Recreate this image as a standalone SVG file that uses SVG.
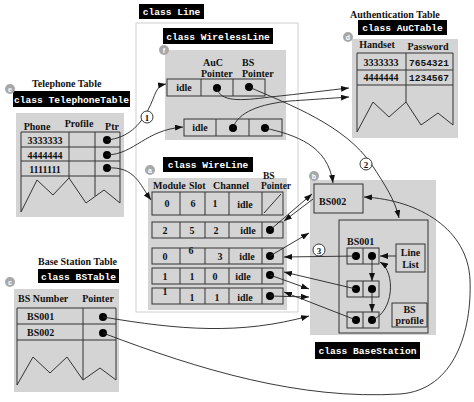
<svg xmlns="http://www.w3.org/2000/svg" width="474" height="402" viewBox="0 0 474 402">
<style>
.bg{fill:#fff}
.gray{fill:#d4d4d4;stroke:none}
.outer{fill:#fff;stroke:#d0d0d0;stroke-width:1}
.cell{fill:none;stroke:#333;stroke-width:1}
.tl{fill:none;stroke:#333;stroke-width:1}
.lbl{fill:#000}
.lt{font-family:"Liberation Mono",monospace;font-weight:bold;font-size:9.6px;fill:#fff}
.t{font-family:"Liberation Serif",serif;font-weight:bold;font-size:10px;fill:#111}
.h{font-family:"Liberation Serif",serif;font-weight:bold;font-size:9.5px;fill:#111}
.m{font-family:"Liberation Mono",monospace;font-weight:bold;font-size:9.5px;fill:#111}
.dot{fill:#000}
.tag{fill:#a8a8a8}
.tagt{font-family:"Liberation Sans",sans-serif;font-weight:bold;font-size:7px;fill:#fff}
.num{fill:#fff;stroke:#222;stroke-width:0.9}
.numt{font-family:"Liberation Serif",serif;font-weight:bold;font-size:9px;fill:#111}
</style>
<defs>
<marker id="ah" markerUnits="userSpaceOnUse" markerWidth="8" markerHeight="6" refX="8" refY="3" orient="auto">
<path d="M0,0 L8,3 L0,6 z" fill="#111" stroke="none"/>
</marker>
</defs>
<rect class="bg" x="0" y="0" width="474" height="402"/>

<g id="line">
<rect class="lbl" x="139" y="4" width="65" height="15"/>
<text class="lt" x="171.5" y="15" text-anchor="middle">class Line</text>
<rect class="outer" x="136" y="23" width="162" height="289"/>
</g>

<g id="wirelessline">
<rect class="lbl" x="163" y="28" width="110" height="16"/>
<text class="lt" x="218" y="39.5" text-anchor="middle">class WirelessLine</text>
<rect class="gray" x="165" y="50" width="121" height="90"/>
<circle class="tag" cx="164" cy="50" r="5"/><text class="tagt" x="164" y="52.5" text-anchor="middle">f</text>
<text class="t" x="203" y="66">AuC</text>
<text class="t" x="201" y="77">Pointer</text>
<text class="t" x="242" y="66">BS</text>
<text class="t" x="242" y="77">Pointer</text>
<rect class="cell" x="167" y="79" width="98" height="17"/>
<line class="cell" x1="201" y1="79" x2="201" y2="96"/>
<line class="cell" x1="233" y1="79" x2="233" y2="96"/>
<text class="t" x="184" y="91" text-anchor="middle">idle</text>
<circle class="dot" cx="217" cy="88" r="4"/>
<circle class="dot" cx="249" cy="87" r="4"/>
<rect class="cell" x="184" y="119" width="98" height="17"/>
<line class="cell" x1="216" y1="119" x2="216" y2="136"/>
<line class="cell" x1="249" y1="119" x2="249" y2="136"/>
<text class="t" x="200" y="131" text-anchor="middle">idle</text>
<circle class="dot" cx="233" cy="128" r="4"/>
<circle class="dot" cx="265" cy="128" r="4"/>
</g>

<g id="telephonetable">
<text class="t" x="32" y="87">Telephone Table</text>
<rect class="lbl" x="13" y="91" width="117" height="16"/>
<text class="lt" x="71.5" y="102.5" text-anchor="middle">class TelephoneTable</text>
<circle class="tag" cx="10" cy="89" r="5"/><text class="tagt" x="10" y="91.5" text-anchor="middle">e</text>
<rect class="gray" x="16" y="113" width="108" height="104"/>
<text class="t" x="37" y="130" text-anchor="middle">Phone</text>
<text class="t" x="79" y="127" text-anchor="middle">Profile</text>
<text class="t" x="112" y="130" text-anchor="middle">Ptr</text>
<line class="tl" x1="21" y1="132" x2="120" y2="132"/>
<line class="tl" x1="21" y1="147" x2="120" y2="147"/>
<line class="tl" x1="21" y1="161" x2="120" y2="161"/>
<line class="tl" x1="21" y1="176" x2="120" y2="176"/>
<line class="tl" x1="21" y1="132" x2="21" y2="212"/>
<line class="tl" x1="120" y1="132" x2="120" y2="203"/>
<line class="tl" x1="69" y1="132" x2="69" y2="178"/>
<line class="tl" x1="95" y1="132" x2="95" y2="196"/>
<polyline class="tl" points="21,212 37,180 53,195 69,178 86,203 104,190 120,203"/>
<text class="t" x="45" y="144" text-anchor="middle">3333333</text>
<text class="t" x="45" y="159" text-anchor="middle">4444444</text>
<text class="t" x="45" y="173" text-anchor="middle">1111111</text>
<circle class="dot" cx="107" cy="140" r="4"/>
<circle class="dot" cx="107" cy="155" r="4"/>
<circle class="dot" cx="107" cy="168" r="4"/>
</g>

<g id="auctable">
<text class="t" x="350" y="18">Authentication Table</text>
<rect class="lbl" x="358" y="20" width="89" height="15"/>
<text class="lt" x="402.5" y="31" text-anchor="middle">class AuCTable</text>
<rect class="gray" x="352" y="39" width="106" height="99"/>
<circle class="tag" cx="348" cy="37" r="5"/><text class="tagt" x="348" y="39.5" text-anchor="middle">d</text>
<text class="t" x="377" y="48" text-anchor="middle">Handset</text>
<text class="t" x="428" y="50" text-anchor="middle">Password</text>
<line class="tl" x1="357" y1="53" x2="453" y2="53"/>
<line class="tl" x1="357" y1="70" x2="453" y2="70"/>
<line class="tl" x1="357" y1="85" x2="453" y2="85"/>
<line class="tl" x1="357" y1="53" x2="357" y2="132"/>
<line class="tl" x1="453" y1="53" x2="453" y2="125"/>
<line class="tl" x1="406" y1="53" x2="406" y2="102"/>
<polyline class="tl" points="357,132 373,102 389,117 406,102 421,125 438,113 453,125"/>
<text class="t" x="381" y="66" text-anchor="middle">3333333</text>
<text class="m" x="429" y="66" text-anchor="middle">7654321</text>
<text class="t" x="381" y="81" text-anchor="middle">4444444</text>
<text class="m" x="429" y="81" text-anchor="middle">1234567</text>
</g>

<g id="wireline">
<rect class="lbl" x="163" y="157" width="90" height="15"/>
<text class="lt" x="208" y="168" text-anchor="middle">class WireLine</text>
<circle class="tag" cx="150" cy="170" r="5"/><text class="tagt" x="150" y="172.5" text-anchor="middle">a</text>
<rect class="gray" x="148" y="178" width="139" height="132"/>
<text class="t" x="153" y="189">Module</text>
<text class="t" x="189" y="189">Slot</text>
<text class="t" x="213" y="189">Channel</text>
<text class="h" x="263" y="179">BS</text>
<text class="h" x="261" y="189">Pointer</text>
<rect class="cell" x="152" y="192" width="131" height="23"/>
<line class="cell" x1="180" y1="192" x2="180" y2="215"/>
<line class="cell" x1="205" y1="192" x2="205" y2="215"/>
<line class="cell" x1="229" y1="192" x2="229" y2="215"/>
<line class="cell" x1="262" y1="192" x2="262" y2="215"/>
<line class="cell" x1="264" y1="213" x2="281" y2="194"/>
<text class="t" x="167" y="207" text-anchor="middle">0</text>
<text class="t" x="193" y="207" text-anchor="middle">6</text>
<text class="t" x="215" y="207" text-anchor="middle">1</text>
<text class="t" x="245" y="208" text-anchor="middle">idle</text>
<rect class="cell" x="152" y="222" width="131" height="16"/>
<line class="cell" x1="180" y1="222" x2="180" y2="238"/>
<line class="cell" x1="205" y1="222" x2="205" y2="238"/>
<line class="cell" x1="229" y1="222" x2="229" y2="238"/>
<line class="cell" x1="262" y1="222" x2="262" y2="238"/>
<text class="t" x="165" y="234" text-anchor="middle">2</text>
<text class="t" x="192" y="234" text-anchor="middle">5</text>
<text class="t" x="216" y="234" text-anchor="middle">2</text>
<text class="t" x="248" y="234" text-anchor="middle">idle</text>
<circle class="dot" cx="270" cy="230" r="4"/>
<rect class="cell" x="152" y="248" width="131" height="16"/>
<line class="cell" x1="180" y1="248" x2="180" y2="264"/>
<line class="cell" x1="205" y1="248" x2="205" y2="264"/>
<line class="cell" x1="229" y1="248" x2="229" y2="264"/>
<line class="cell" x1="262" y1="248" x2="262" y2="264"/>
<text class="t" x="165" y="260" text-anchor="middle">0</text>
<text class="t" x="191" y="254" text-anchor="middle">6</text>
<text class="t" x="220" y="260" text-anchor="middle">3</text>
<text class="t" x="247" y="260" text-anchor="middle">idle</text>
<circle class="dot" cx="270" cy="256" r="4"/>
<rect class="cell" x="152" y="268" width="131" height="16"/>
<line class="cell" x1="180" y1="268" x2="180" y2="284"/>
<line class="cell" x1="205" y1="268" x2="205" y2="284"/>
<line class="cell" x1="229" y1="268" x2="229" y2="284"/>
<line class="cell" x1="262" y1="268" x2="262" y2="284"/>
<text class="t" x="165" y="280" text-anchor="middle">1</text>
<text class="t" x="192" y="280" text-anchor="middle">1</text>
<text class="t" x="215" y="280" text-anchor="middle">0</text>
<text class="t" x="243" y="280" text-anchor="middle">idle</text>
<circle class="dot" cx="270" cy="275" r="4"/>
<rect class="cell" x="152" y="288" width="131" height="16"/>
<line class="cell" x1="180" y1="288" x2="180" y2="304"/>
<line class="cell" x1="205" y1="288" x2="205" y2="304"/>
<line class="cell" x1="229" y1="288" x2="229" y2="304"/>
<line class="cell" x1="262" y1="288" x2="262" y2="304"/>
<text class="t" x="165" y="295" text-anchor="middle">1</text>
<text class="t" x="192" y="301" text-anchor="middle">1</text>
<text class="t" x="217" y="301" text-anchor="middle">1</text>
<text class="t" x="245" y="301" text-anchor="middle">idle</text>
<circle class="dot" cx="270" cy="296" r="4"/>
</g>

<g id="basestation">
<rect class="gray" x="310" y="180" width="126" height="155"/>
<circle class="tag" cx="314" cy="176" r="5"/><text class="tagt" x="314" y="178.5" text-anchor="middle">b</text>
<rect class="cell" x="314" y="184" width="49" height="29"/>
<text class="t" x="319" y="205">BS002</text>
<rect class="cell" x="339" y="220" width="89" height="113"/>
<text class="t" x="347" y="245">BS001</text>
<rect class="cell" x="347" y="248" width="32" height="16"/>
<line class="cell" x1="363" y1="248" x2="363" y2="264"/>
<circle class="dot" cx="356" cy="256" r="4"/>
<circle class="dot" cx="372" cy="256" r="4"/>
<rect class="cell" x="347" y="281" width="32" height="16"/>
<line class="cell" x1="363" y1="281" x2="363" y2="297"/>
<circle class="dot" cx="356" cy="289" r="4"/>
<circle class="dot" cx="372" cy="289" r="4"/>
<rect class="cell" x="347" y="312" width="32" height="16"/>
<line class="cell" x1="363" y1="312" x2="363" y2="328"/>
<circle class="dot" cx="356" cy="320" r="4"/>
<circle class="dot" cx="372" cy="320" r="4"/>
<rect class="cell" x="396" y="244" width="29" height="28"/>
<text class="t" x="410.5" y="256" text-anchor="middle">Line</text>
<text class="t" x="410.5" y="268" text-anchor="middle">List</text>
<rect class="cell" x="392" y="303" width="35" height="24"/>
<text class="t" x="409.5" y="313" text-anchor="middle">BS</text>
<text class="t" x="409.5" y="324" text-anchor="middle">profile</text>
<rect class="lbl" x="315" y="342" width="105" height="17"/>
<text class="lt" x="367.5" y="353.5" text-anchor="middle">class BaseStation</text>
</g>

<g id="bstable">
<text class="t" x="38" y="265">Base Station Table</text>
<rect class="lbl" x="38" y="269" width="81" height="14"/>
<text class="lt" x="78.5" y="279.5" text-anchor="middle">class BSTable</text>
<circle class="tag" cx="10" cy="282" r="5"/><text class="tagt" x="10" y="284.5" text-anchor="middle">c</text>
<rect class="gray" x="14" y="289" width="105" height="103"/>
<text class="t" x="18" y="302">BS Number</text>
<text class="t" x="98" y="302" text-anchor="middle">Pointer</text>
<line class="tl" x1="17" y1="308" x2="116" y2="308"/>
<line class="tl" x1="17" y1="324" x2="116" y2="324"/>
<line class="tl" x1="17" y1="340" x2="116" y2="340"/>
<line class="tl" x1="17" y1="308" x2="17" y2="385"/>
<line class="tl" x1="116" y1="308" x2="116" y2="380"/>
<line class="tl" x1="83" y1="308" x2="83" y2="380"/>
<polyline class="tl" points="17,385 33,357 50,373 67,357 83,380 100,368 116,380"/>
<text class="t" x="27" y="320">BS001</text>
<text class="t" x="27" y="336">BS002</text>
<circle class="dot" cx="103" cy="317" r="4"/>
<circle class="dot" cx="103" cy="333" r="4"/>
</g>

<g id="connectors" fill="none" stroke="#222" stroke-width="0.9">
<path fill="none" d="M396,256 L380,256" marker-end="url(#ah)"/>
<path fill="none" d="M372,258 L372,281" marker-end="url(#ah)"/>
<path fill="none" d="M372,291 L372,312" marker-end="url(#ah)"/>
<path fill="none" d="M372,320 C394,312 396,272 380,262" marker-end="url(#ah)"/>
<path fill="none" d="M107,140 C128,138 140,125 148,110 S155,86 166,84" marker-end="url(#ah)"/>
<path fill="none" d="M107,155 C135,154 145,130 183,127" marker-end="url(#ah)"/>
<path fill="none" d="M107,168 C135,166 140,185 151,200" marker-end="url(#ah)"/>
<path fill="none" d="M217,88 C220,102 240,101 270,97 C300,94 330,90 349,88" marker-end="url(#ah)"/>
<path fill="none" d="M233,128 C238,112 260,104 290,101 C320,99 335,98 349,97" marker-end="url(#ah)"/>
<path fill="none" d="M249,87 C290,105 345,125 372,165 C385,185 395,200 399,218" marker-end="url(#ah)"/>
<path fill="none" d="M265,128 C295,135 328,145 333,183" marker-end="url(#ah)"/>
<path fill="none" d="M270,230 L312,194" marker-end="url(#ah)"/>
<path fill="none" d="M313,199 L284,221" marker-end="url(#ah)"/>
<path fill="none" d="M270,256 L309,233" marker-end="url(#ah)"/>
<path fill="none" d="M356,256 L284,257" marker-end="url(#ah)"/>
<path fill="none" d="M356,289 L284,272" marker-end="url(#ah)"/>
<path fill="none" d="M270,275 L309,289" marker-end="url(#ah)"/>
<path fill="none" d="M356,320 L284,292" marker-end="url(#ah)"/>
<path fill="none" d="M270,296 L309,297" marker-end="url(#ah)"/>
<path fill="none" d="M103,317 C180,330 240,335 309,316" marker-end="url(#ah)"/>
<path fill="none" d="M103,333 C200,370 300,400 400,394 C455,390 472,330 470,280 C468,230 420,200 364,197" marker-end="url(#ah)"/>
<circle class="num" cx="147" cy="117" r="6"/>
<text class="numt" x="147" y="120.5" text-anchor="middle" stroke="none">1</text>
<circle class="num" cx="366" cy="164" r="6"/>
<text class="numt" x="366" y="167.5" text-anchor="middle" stroke="none">2</text>
<circle class="num" cx="319" cy="250" r="6"/>
<text class="numt" x="319" y="253.5" text-anchor="middle" stroke="none">3</text>
</g>
</svg>
